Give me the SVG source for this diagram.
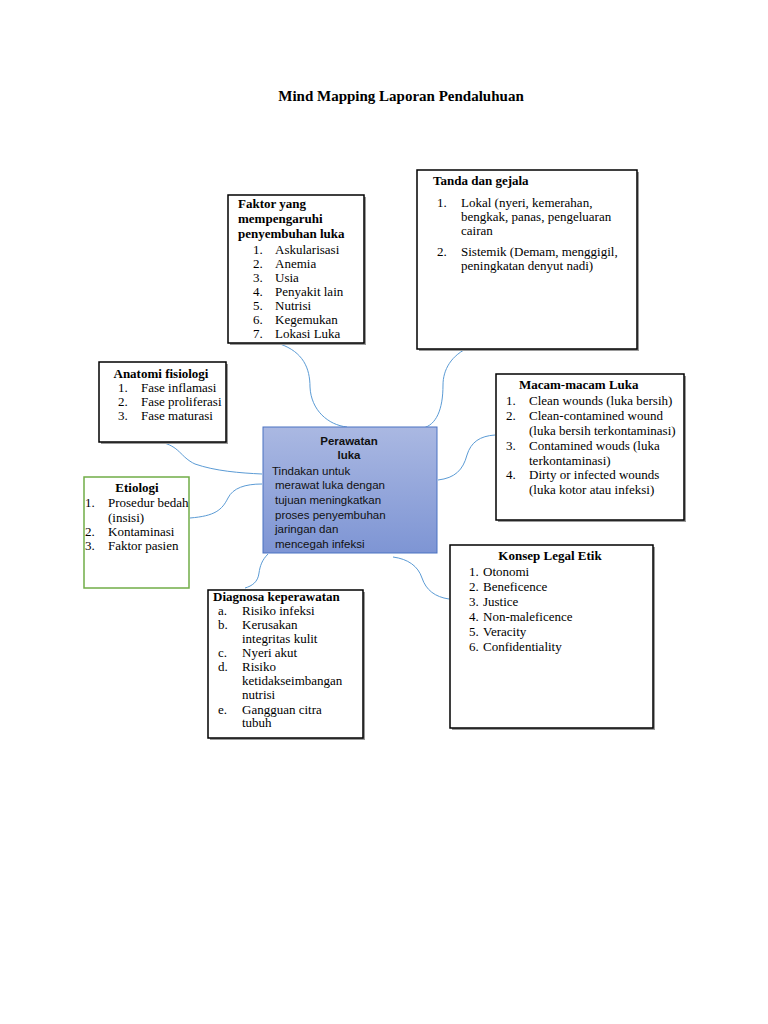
<svg xmlns="http://www.w3.org/2000/svg" width="768" height="1024" viewBox="0 0 768 1024">
<defs>
<linearGradient id="cg" x1="0" y1="0" x2="0" y2="1">
<stop offset="0" stop-color="#aab8e2"/>
<stop offset="1" stop-color="#7e95d4"/>
</linearGradient>
<style>
.bx{fill:#fff;stroke:#000;stroke-width:1.5}
.sh{fill:#9a9a9a}
.t{font-family:"Liberation Serif","Times New Roman",serif;font-size:13px;fill:#000}
.h{font-family:"Liberation Serif","Times New Roman",serif;font-size:13px;font-weight:bold;fill:#000}
.s{font-family:"Liberation Sans",Arial,sans-serif;font-size:11.5px;fill:#111}
.sb{font-family:"Liberation Sans",Arial,sans-serif;font-size:11.5px;font-weight:bold;fill:#111}
.c{fill:none;stroke:#5b9bd5;stroke-width:1}
</style>
</defs>
<rect width="768" height="1024" fill="#fff"/>
<text x="401" y="101" text-anchor="middle" style="font-family:'Liberation Serif','Times New Roman',serif;font-size:15px;font-weight:bold">Mind Mapping Laporan Pendaluhuan</text>

<g id="connectors">
<path class="c" d="M280,344 C303,352 310,368 310,387 C311,410 328,425 347,427"/>
<path class="c" d="M470,347 C451,355 443,370 443,385 C443,410 436,425 423,428"/>
<path class="c" d="M160,442 C180,446 180,457 195,464 C215,471 240,473 262,474"/>
<path class="c" d="M190,518 C215,516 222,510 228,498 C233,488 245,484 262,484"/>
<path class="c" d="M438,480 C455,478 463,470 467,455 C471,442 480,436 495,435"/>
<path class="c" d="M268,554 C262,560 260,566 259,573 C258,582 252,586 245,588"/>
<path class="c" d="M393,557 C408,559 418,566 422,578 C426,590 435,597 449,599"/>
</g>

<g id="faktor">
<rect class="sh" x="230" y="197" width="136" height="148"/>
<rect class="bx" x="228" y="195" width="136" height="148"/>
<text class="h" x="238" y="208">Faktor yang</text>
<text class="h" x="238" y="223">mempengaruhi</text>
<text class="h" x="238" y="238">penyembuhan luka</text>
<text class="t" x="253" y="254">1.</text><text class="t" x="275" y="254">Askularisasi</text>
<text class="t" x="253" y="268">2.</text><text class="t" x="275" y="268">Anemia</text>
<text class="t" x="253" y="282">3.</text><text class="t" x="275" y="282">Usia</text>
<text class="t" x="253" y="296">4.</text><text class="t" x="275" y="296">Penyakit lain</text>
<text class="t" x="253" y="310">5.</text><text class="t" x="275" y="310">Nutrisi</text>
<text class="t" x="253" y="324">6.</text><text class="t" x="275" y="324">Kegemukan</text>
<text class="t" x="253" y="338">7.</text><text class="t" x="275" y="338">Lokasi Luka</text>
</g>

<g id="tanda">
<rect class="sh" x="419" y="172" width="220" height="179"/>
<rect class="bx" x="417" y="170" width="220" height="179"/>
<text class="h" x="433" y="185">Tanda dan gejala</text>
<text class="t" x="437" y="207">1.</text><text class="t" x="461" y="207">Lokal (nyeri, kemerahan,</text>
<text class="t" x="461" y="221">bengkak, panas, pengeluaran</text>
<text class="t" x="461" y="235">cairan</text>
<text class="t" x="437" y="256">2.</text><text class="t" x="461" y="256">Sistemik (Demam, menggigil,</text>
<text class="t" x="461" y="270">peningkatan denyut nadi)</text>
</g>

<g id="anatomi">
<rect class="sh" x="101" y="364" width="127" height="80"/>
<rect class="bx" x="99" y="362" width="127" height="80"/>
<text class="h" x="161" y="378" text-anchor="middle">Anatomi fisiologi</text>
<text class="t" x="118" y="392">1.</text><text class="t" x="141" y="392">Fase inflamasi</text>
<text class="t" x="118" y="406">2.</text><text class="t" x="141" y="406">Fase proliferasi</text>
<text class="t" x="118" y="420">3.</text><text class="t" x="141" y="420">Fase maturasi</text>
</g>

<g id="etiologi">
<rect x="84" y="477" width="105" height="111" fill="#fff" stroke="#70ad47" stroke-width="1.5"/>
<text class="h" x="137" y="492" text-anchor="middle">Etiologi</text>
<text class="t" x="85" y="507">1.</text><text class="t" x="108" y="507">Prosedur bedah</text>
<text class="t" x="108" y="522">(insisi)</text>
<text class="t" x="85" y="536">2.</text><text class="t" x="108" y="536">Kontaminasi</text>
<text class="t" x="85" y="550">3.</text><text class="t" x="108" y="550">Faktor pasien</text>
</g>

<g id="perawatan">
<rect x="263" y="427" width="174" height="126" fill="url(#cg)" stroke="#4a72c2" stroke-width="1"/>
<text class="sb" x="349" y="445" text-anchor="middle">Perawatan</text>
<text class="sb" x="349" y="459" text-anchor="middle">luka</text>
<text class="s" x="272" y="475">Tindakan untuk</text>
<text class="s" x="275" y="489">merawat luka dengan</text>
<text class="s" x="275" y="504">tujuan meningkatkan</text>
<text class="s" x="275" y="519">proses penyembuhan</text>
<text class="s" x="275" y="533">jaringan dan</text>
<text class="s" x="275" y="548">mencegah infeksi</text>
</g>

<g id="macam">
<rect class="sh" x="498" y="376" width="188" height="146"/>
<rect class="bx" x="496" y="374" width="188" height="146"/>
<text class="h" x="519" y="389">Macam-macam Luka</text>
<text class="t" x="506" y="405">1.</text><text class="t" x="529" y="405">Clean wounds (luka bersih)</text>
<text class="t" x="506" y="420">2.</text><text class="t" x="529" y="420">Clean-contamined wound</text>
<text class="t" x="529" y="435">(luka bersih terkontaminasi)</text>
<text class="t" x="506" y="450">3.</text><text class="t" x="529" y="450">Contamined wouds (luka</text>
<text class="t" x="529" y="465">terkontaminasi)</text>
<text class="t" x="506" y="479">4.</text><text class="t" x="529" y="479">Dirty or infected wounds</text>
<text class="t" x="529" y="494">(luka kotor atau infeksi)</text>
</g>

<g id="konsep">
<rect class="sh" x="452" y="547" width="203" height="183"/>
<rect class="bx" x="450" y="545" width="203" height="183"/>
<text class="h" x="550" y="560" text-anchor="middle">Konsep Legal Etik</text>
<text class="t" x="469" y="576">1.</text><text class="t" x="483" y="576">Otonomi</text>
<text class="t" x="469" y="591">2.</text><text class="t" x="483" y="591">Beneficence</text>
<text class="t" x="469" y="606">3.</text><text class="t" x="483" y="606">Justice</text>
<text class="t" x="469" y="621">4.</text><text class="t" x="483" y="621">Non-maleficence</text>
<text class="t" x="469" y="636">5.</text><text class="t" x="483" y="636">Veracity</text>
<text class="t" x="469" y="651">6.</text><text class="t" x="483" y="651">Confidentiality</text>
</g>

<g id="diagnosa">
<rect class="sh" x="210" y="592" width="155" height="148"/>
<rect class="bx" x="208" y="590" width="155" height="148"/>
<text class="h" x="213" y="601">Diagnosa keperawatan</text>
<text class="t" x="218" y="615">a.</text><text class="t" x="242" y="615">Risiko infeksi</text>
<text class="t" x="218" y="629">b.</text><text class="t" x="242" y="629">Kerusakan</text>
<text class="t" x="242" y="643">integritas kulit</text>
<text class="t" x="218" y="657">c.</text><text class="t" x="242" y="657">Nyeri akut</text>
<text class="t" x="218" y="671">d.</text><text class="t" x="242" y="671">Risiko</text>
<text class="t" x="242" y="685">ketidakseimbangan</text>
<text class="t" x="242" y="699">nutrisi</text>
<text class="t" x="218" y="714">e.</text><text class="t" x="242" y="714">Gangguan citra</text>
<text class="t" x="242" y="727">tubuh</text>
</g>
</svg>
